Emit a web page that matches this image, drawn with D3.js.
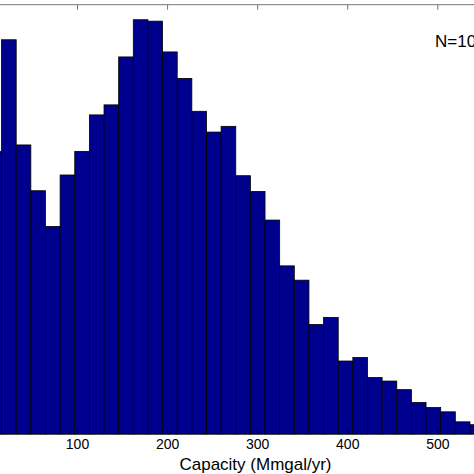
<!DOCTYPE html>
<html>
<head>
<meta charset="utf-8">
<script src="https://cdn.jsdelivr.net/npm/d3@7"></script>
<style>
  html, body { margin: 0; padding: 0; background: #ffffff; }
  svg { display: block; overflow: hidden; }
  text { font-family: "Liberation Sans", Arial, Helvetica, sans-serif; fill: #000; }
</style>
</head>
<body>
<svg id="chart" width="474" height="474"></svg>
<script>
// ---- data ----
const binWidth = 16.25;            // Mmgal/yr per bin
const binStarts = d3.range(0, 34).map(i => i * binWidth);
const counts = [39.5, 55.1, 40.4, 34.0, 29.0, 36.2, 39.5, 44.6, 46.0, 52.7,
                57.9, 57.7, 53.4, 49.7, 45.1, 42.2, 43.0, 36.1, 33.9, 29.9,
                23.5, 21.5, 15.3, 16.3, 10.2, 10.7, 7.9, 7.4, 6.2, 4.4,
                3.7, 3.1, 1.7, 1.3];
const xTicks = [100, 200, 300, 400, 500];
const xLabel = "Capacity (Mmgal/yr)";
const nLabel = "N=10";

const svg = d3.select("#chart");
const W = 474, H = 474;

const x = d3.scaleLinear().domain([100, 500]).range([77, 437.3]);
const y = d3.scaleLinear().domain([0, 60]).range([434, 4.7]);

const bars = binStarts.map((s, i) => ({ x0: s, x1: s + binWidth, v: counts[i] }));

svg.append("g")
  .selectAll("rect")
  .data(bars)
  .enter().append("rect")
  .attr("x", d => x(d.x0))
  .attr("width", d => x(d.x1) - x(d.x0))
  .attr("y", d => y(d.v))
  .attr("height", d => y(0) - y(d.v))
  .attr("fill", "#00008f")
  .attr("stroke", "#000000")
  .attr("stroke-width", 0.8);

// top box edge with inward ticks
const topAxis = svg.append("g").attr("transform", `translate(0,${y(60)})`)
  .call(d3.axisTop(x).tickValues(xTicks).tickSizeInner(-5).tickSizeOuter(0).tickFormat(""));
topAxis.select(".domain").attr("d", `M-20,0H${W + 20}`).attr("stroke", "#777").attr("stroke-width", 1);
topAxis.selectAll(".tick line").attr("stroke", "#777");

// bottom axis
const bottomAxis = svg.append("g").attr("transform", `translate(0,${y(0)})`)
  .call(d3.axisBottom(x).tickValues(xTicks).tickSizeInner(-5).tickSizeOuter(0).tickPadding(5));
bottomAxis.select(".domain").attr("d", `M-20,0H${W + 20}`).attr("stroke", "#000").attr("stroke-width", 1);
bottomAxis.selectAll(".tick line").attr("stroke", "#000");
bottomAxis.selectAll(".tick text")
  .style("font-family", "'Liberation Sans', Arial, Helvetica, sans-serif")
  .style("font-size", "14px")
  .attr("fill", "#000");

// axis label
svg.append("text")
  .attr("x", 255.5)
  .attr("y", 470)
  .attr("text-anchor", "middle")
  .style("font-size", "17px")
  .text(xLabel);

// N annotation (cut off by the right edge)
svg.append("text")
  .attr("x", 435)
  .attr("y", 46.5)
  .attr("text-anchor", "start")
  .style("font-size", "17px")
  .text(nLabel);
</script>
</body>
</html>
